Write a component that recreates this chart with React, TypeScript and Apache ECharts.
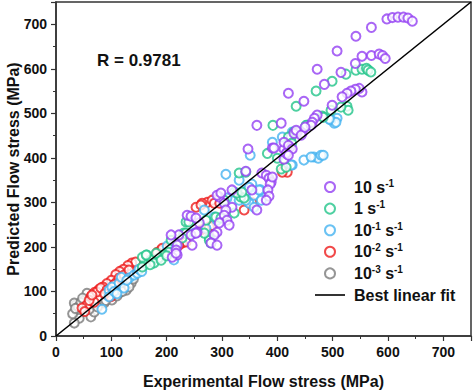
import React, { useEffect, useRef } from "react";
import * as echarts from "echarts";

// Experimental vs predicted flow stress (MPa), [experimental, predicted]
const rate10: number[][] = [
  [598, 712], [608, 715], [618, 716], [628, 716], [636, 714], [644, 707],
  [570, 693], [542, 673], [508, 640], [472, 599], [420, 545], [448, 527], [485, 565], [515, 592],
  [541, 612], [553, 628], [570, 630], [584, 633], [590, 630], [595, 623],
  [553, 548], [548, 556], [541, 554], [533, 550], [526, 545], [517, 537], [499, 518], [472, 496], [467, 489], [463, 480], [461, 473],
  [407, 478], [445, 456], [436, 458], [391, 422], [412, 420], [418, 413], [423, 424],
  [363, 473], [347, 420], [394, 422], [412, 435], [420, 428], [427, 420], [430, 455], [434, 462], [443, 451], [450, 469], [412, 397], [416, 410], [420, 406],
  [372, 366], [380, 361], [385, 354], [389, 346], [387, 341], [383, 328], [385, 314], [391, 357], [354, 328], [295, 312], [318, 328], [380, 305], [304, 298], [318, 289], [363, 283], [343, 370],
  [237, 271], [244, 269], [291, 316], [298, 321], [307, 283], [304, 271], [309, 260], [295, 254], [291, 233], [259, 254], [255, 233], [244, 227], [246, 204], [219, 204], [217, 193], [219, 182], [210, 177], [286, 227], [313, 249], [253, 265], [222, 227], [208, 227], [217, 186], [253, 231], [280, 209], [291, 204],
];
const rate1: number[][] = [
  [542, 597], [553, 599], [561, 601], [564, 597], [569, 593], [524, 588], [499, 572], [470, 550], [434, 516], [526, 516], [528, 507], [515, 514], [481, 494], [497, 507], [454, 473], [430, 458], [425, 447],
  [392, 473], [452, 473], [434, 458], [420, 447], [426, 433], [483, 491],
  [382, 410], [331, 366], [343, 368], [334, 312], [327, 321], [340, 310], [407, 375], [416, 379], [400, 399],
  [336, 323], [289, 267], [304, 305], [322, 276], [271, 260], [298, 265], [277, 220], [231, 231], [235, 256], [208, 215],
  [240, 256], [235, 231], [228, 220], [204, 188], [195, 182], [186, 175], [174, 171], [163, 164], [156, 155], [277, 215], [280, 209], [268, 231],
  [156, 177], [164, 182], [172, 171], [181, 186], [177, 164], [163, 182], [170, 160], [190, 170], [200, 180],
];
const rate01: number[][] = [
  [508, 489], [503, 478], [497, 485], [427, 458], [409, 447],
  [448, 395], [466, 402], [474, 399], [479, 406], [483, 406], [427, 384],
  [506, 480], [494, 487], [391, 435], [461, 402],
  [351, 406], [307, 363], [425, 384], [354, 341], [343, 325], [370, 328], [358, 316], [349, 298], [358, 289], [331, 305],
  [367, 328], [349, 334], [371, 305], [343, 305], [322, 323], [309, 310], [331, 350], [268, 283],
  [250, 231], [217, 209], [210, 204], [201, 202], [291, 260], [286, 267], [271, 242], [213, 171],
  [96, 103], [101, 110], [114, 119], [96, 88], [123, 108], [118, 132], [132, 130], [141, 137], [147, 141], [105, 100], [110, 95], [128, 125], [150, 150], [155, 145], [83, 60],
];
const rate001: number[][] = [
  [414, 379], [418, 368], [409, 368], [273, 300], [282, 305], [264, 298], [354, 300], [340, 283],
  [253, 289], [262, 294], [286, 298], [296, 298],
  [262, 238], [269, 242], [277, 245], [283, 248], [228, 209], [235, 211], [222, 204], [199, 197], [190, 193], [183, 188], [192, 197],
  [137, 164], [144, 166], [130, 158], [122, 150], [115, 145], [108, 138], [100, 125], [92, 118], [85, 110], [78, 105], [70, 98], [63, 88], [56, 70], [47, 63], [74, 99], [81, 108], [92, 103], [99, 88], [108, 119], [114, 130], [123, 137], [132, 148], [69, 76], [52, 55], [60, 80], [65, 92], [88, 95], [105, 115],
];
const rate0001: number[][] = [
  [38, 58], [36, 70], [33, 74], [43, 52], [51, 81], [63, 43], [69, 54], [56, 96], [87, 74], [101, 81], [114, 96], [127, 103], [136, 119], [128, 126], [42, 40], [33, 29], [40, 65], [45, 75], [48, 85], [30, 50], [35, 62], [60, 60], [75, 65], [90, 80], [110, 90], [120, 100], [132, 110], [140, 128],
];
const fitLine: number[][] = [[0, 0], [750, 750]];
const axisTicks = { min: 0, max: 750, interval: 100 };
const rValue = "R = 0.9781";

const legendLabels: Record<string, string> = {
  r10: "10 s{sup|-1}",
  r1: "1 s{sup|-1}",
  r01: "10{sup|-1} s{sup|-1}",
  r001: "10{sup|-2} s{sup|-1}",
  r0001: "10{sup|-3} s{sup|-1}",
  fit: "Best linear fit",
};

const FONT = "'Liberation Sans', Arial, sans-serif";

export default function App() {
  const ref = useRef<HTMLDivElement>(null);
  useEffect(() => {
    if (!ref.current) return;
    const chart = echarts.init(ref.current, undefined, { renderer: "svg" });
    const scatter = (id: string, data: number[][], color: string) => ({
      id,
      name: id,
      type: "scatter",
      data,
      symbol: "emptyCircle",
      symbolSize: 9,
      itemStyle: { color, borderColor: color, borderWidth: 1.4 },
      z: 3,
    });
    const axisCommon = {
      type: "value",
      min: axisTicks.min,
      max: axisTicks.max,
      interval: axisTicks.interval,
      nameLocation: "middle",
      nameMoveOverlap: false,
      nameTextStyle: { fontFamily: FONT, fontWeight: "bold", fontSize: 16, color: "#111" },
      axisLine: { show: true, lineStyle: { color: "#333", width: 1.5 } },
      axisTick: { show: true, inside: false, length: 5, lineStyle: { color: "#333", width: 1.2 } },
      minorTick: { show: true, splitNumber: 2, length: 3, lineStyle: { color: "#333", width: 1 } },
      splitLine: { show: false },
      axisLabel: {
        fontFamily: FONT,
        fontWeight: "bold",
        fontSize: 14,
        color: "#111",
        margin: 9,
        showMaxLabel: false,
        formatter: (v: number) => (v > 700 ? "" : String(v)),
      },
    };
    chart.setOption({
      animation: false,
      backgroundColor: "#fff",
      title: {
        text: rValue,
        left: 92,
        top: 47,
        textStyle: { fontFamily: FONT, fontWeight: "bold", fontSize: 17, color: "#111" },
      },
      grid: {
        left: 56,
        right: 3,
        top: 2,
        bottom: 55,
        show: true,
        borderColor: "#333",
        borderWidth: 1.5,
        outerBoundsMode: "none",
        containLabel: false,
      },
      xAxis: {
        ...axisCommon,
        name: "Experimental Flow stress (MPa)",
        nameGap: 37,
      },
      yAxis: {
        ...axisCommon,
        name: "Predicted Flow stress (MPa)",
        nameGap: 35,
      },
      legend: {
        orient: "vertical",
        left: 310,
        top: 173,
        itemWidth: 30,
        itemHeight: 10,
        itemGap: 3.6,
        formatter: (n: string) => legendLabels[n] || n,
        textStyle: {
          fontFamily: FONT,
          fontWeight: "bold",
          fontSize: 16,
          color: "#111",
          lineHeight: 18,
          padding: [0, 0, 0, 4],
          rich: {
            sup: { fontFamily: FONT, fontWeight: "bold", fontSize: 10, verticalAlign: "top", lineHeight: 18, color: "#111" },
          },
        },
        data: [
          { name: "r10", icon: "emptyCircle" },
          { name: "r1", icon: "emptyCircle" },
          { name: "r01", icon: "emptyCircle" },
          { name: "r001", icon: "emptyCircle" },
          { name: "r0001", icon: "emptyCircle" },
          { name: "fit", icon: "path://M0,0H30V1.6H0Z", itemStyle: { color: "#000" } },
        ],
      },
      series: [
        scatter("r0001", rate0001, "#7a7a7a"),
        scatter("r001", rate001, "#ee1c1c"),
        scatter("r01", rate01, "#45b3f0"),
        scatter("r1", rate1, "#22c48a"),
        scatter("r10", rate10, "#9440f2"),
        {
          id: "fit",
          name: "fit",
          type: "line",
          data: fitLine,
          symbol: "none",
          lineStyle: { color: "#000", width: 1.6 },
          itemStyle: { color: "#000" },
          z: 4,
        },
      ],
    });
    return () => chart.dispose();
  }, []);
  return <div ref={ref} style={{ position: "fixed", left: 0, top: 0, width: 474, height: 391 }} />;
}
